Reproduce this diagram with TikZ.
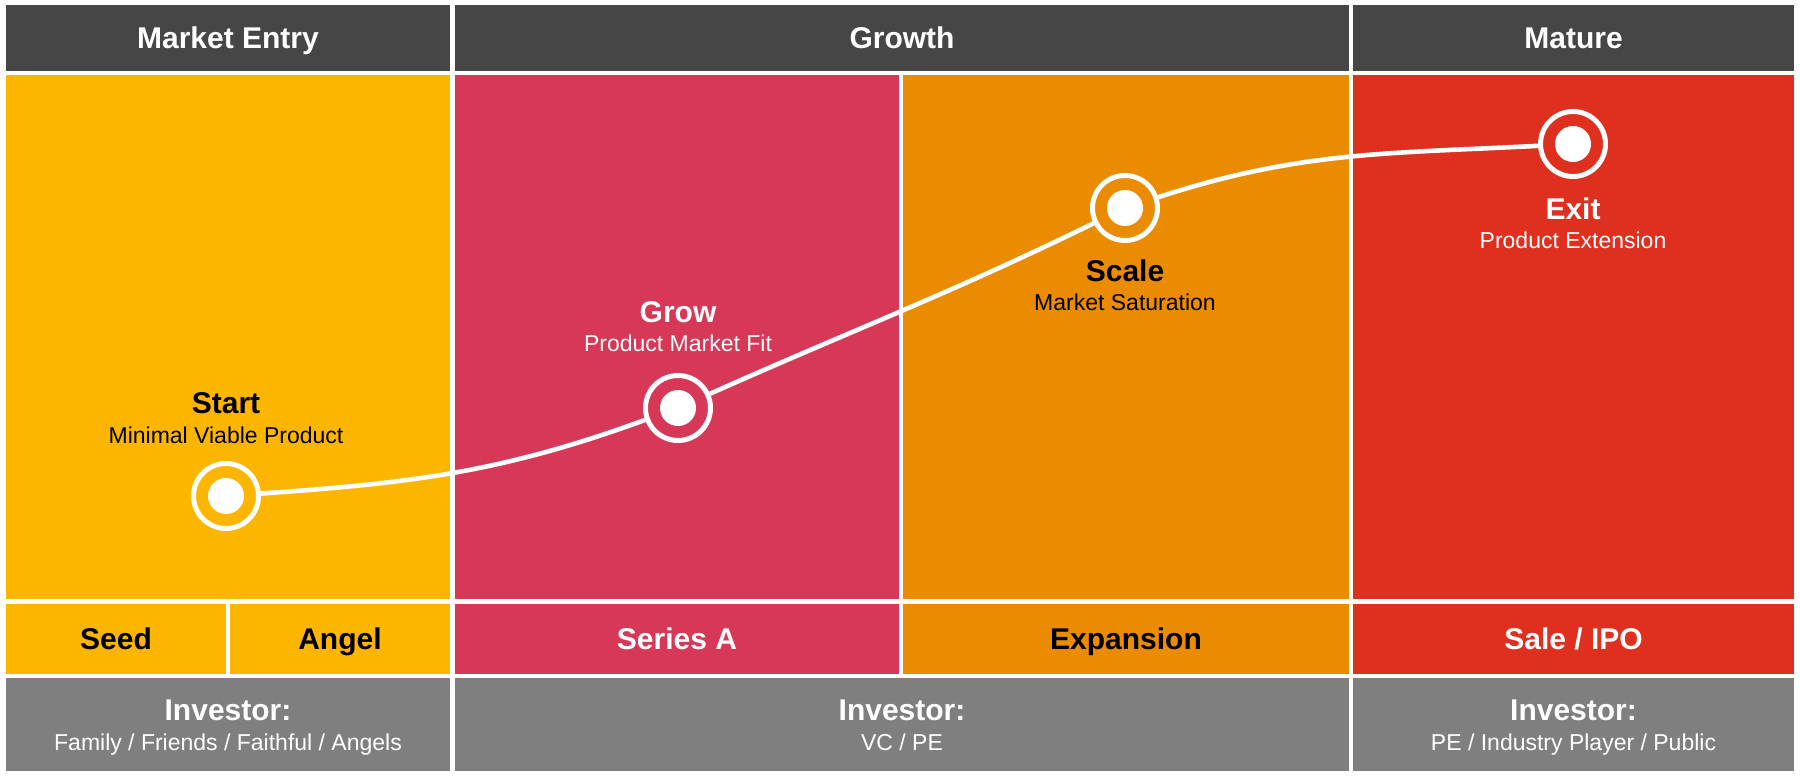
\documentclass[tikz,border=0pt]{standalone}
\usepackage{fontspec}
\setmainfont{Liberation Sans}
\definecolor{hdgray}{HTML}{464646}
\definecolor{invgray}{HTML}{7F7F7F}
\definecolor{entryyellow}{HTML}{FDB600}
\definecolor{seriespink}{HTML}{D73857}
\definecolor{expandorange}{HTML}{EB8C00}
\definecolor{exitred}{HTML}{DF2F1E}
\tikzset{
  title/.style={font=\fontsize{15}{18}\selectfont\bfseries, inner sep=0pt, text height=11pt, text depth=0pt},
  sub/.style={font=\fontsize{11.5}{14}\selectfont, inner sep=0pt, text height=8.4pt, text depth=0pt},
  ring/.style={circle, draw=white, line width=2.5pt, minimum size=32.5pt, inner sep=0pt},
  curve/.style={white, line width=2.3pt},
}

\begin{document}
\begin{tikzpicture}[x=0.5pt,y=0.5pt]
			\useasboundingbox (0,0) rectangle (1800,776);
			\fill[white] (0,0) rectangle (1800,776);
			
			%%%%% HEADER %%%%%
			\fill[hdgray] (6,705) rectangle (450,771);
			\fill[hdgray] (455,705) rectangle (1349,771);
			\fill[hdgray] (1353,705) rectangle (1794,771);
			\node[title, white] (hdEntry) at (228,738) {Market Entry};
			\node[title, white] (hdGrowth) at (902,738) {Growth};
			\node[title, white] (hdMature) at (1573.5,738) {Mature};
			
			%%%%% PANELS %%%%%
			\fill[entryyellow] (6,177) rectangle (450,701);
			\fill[seriespink] (455,177) rectangle (899,701);
			\fill[expandorange] (903,177) rectangle (1349,701);
			\fill[exitred] (1353,177) rectangle (1794,701);
			
			%%%%% FUNDING %%%%%
			\fill[entryyellow] (6,102) rectangle (226,172);
			\fill[entryyellow] (230,102) rectangle (450,172);
			\fill[seriespink] (455,102) rectangle (899,172);
			\fill[expandorange] (903,102) rectangle (1349,172);
			\fill[exitred] (1353,102) rectangle (1794,172);
			\node[title] (fdSeed) at (116,137) {Seed};
			\node[title] (fdAngel) at (340,137) {Angel};
			\node[title, white] (fdSeries) at (677,137) {Series A};
			\node[title] (fdExpansion) at (1126,137) {Expansion};
			\node[title, white] (fdSale) at (1573.5,137) {Sale / IPO};
			
			%%%%% INVESTOR %%%%%
			\fill[invgray] (6,5) rectangle (450,98);
			\fill[invgray] (455,5) rectangle (1349,98);
			\fill[invgray] (1353,5) rectangle (1794,98);
			\node[title, white] (invEntry) at (228,66) {Investor:};
			\node[sub, white] (invEntrySub) at (228,34) {Family / Friends / Faithful / Angels};
			\node[title, white] (invGrowth) at (902,66) {Investor:};
			\node[sub, white] (invGrowthSub) at (902,34) {VC / PE};
			\node[title, white] (invMature) at (1573.5,66) {Investor:};
			\node[sub, white] (invMatureSub) at (1573.5,34) {PE / Industry Player / Public};
			
			%%%%% STAGES %%%%%
			\node[ring, fill=entryyellow] (start) at (226,280) {};
			\node[ring, fill=seriespink] (grow) at (678,368) {};
			\node[ring, fill=expandorange] (scale) at (1125,568) {};
			\node[ring, fill=exitred] (exit) at (1573,632) {};
			\foreach \s in {start,grow,scale,exit}
				\fill[white] (\s.center) circle (9pt);
			
			\draw[curve] (start) to[out=4, in=200] (grow);
			\draw[curve] (grow) to[out=24, in=206] (scale);
			\draw[curve] (scale) to[out=18, in=183] (exit);
			
			\node[title] (startTitle) at (226,373) {Start};
			\node[sub] (startSub) at (226,341) {Minimal Viable Product};
			\node[title, white] (growTitle) at (678,464) {Grow};
			\node[sub, white] (growSub) at (678,433) {Product Market Fit};
			\node[title] (scaleTitle) at (1125,505) {Scale};
			\node[sub] (scaleSub) at (1125,474) {Market Saturation};
			\node[title, white] (exitTitle) at (1573,567) {Exit};
			\node[sub, white] (exitSub) at (1573,536) {Product Extension};
			
		\end{tikzpicture}
\end{document}
